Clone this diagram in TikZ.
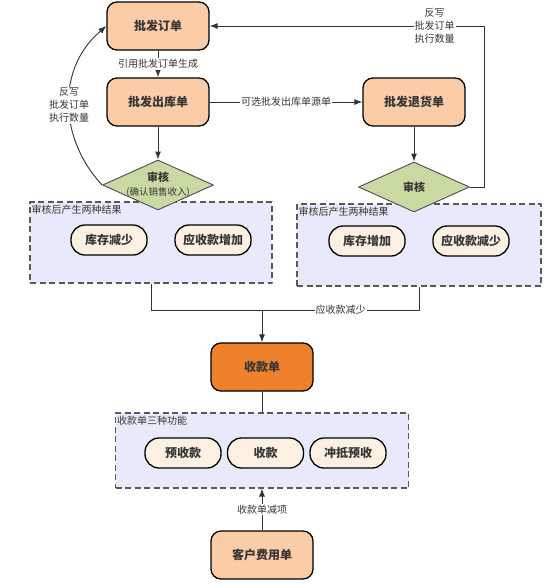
\documentclass[tikz,border=0pt]{standalone}
\usepackage{fontspec}
\setmainfont{Noto Sans CJK SC}
\usetikzlibrary{shapes.geometric,arrows.meta}
\definecolor{docfill}{RGB}{250,204,168}
\definecolor{rcptfill}{RGB}{239,128,44}
\definecolor{chkfill}{RGB}{200,218,162}
\definecolor{grpfill}{RGB}{232,233,250}
\definecolor{pillfill}{RGB}{252,240,226}
\definecolor{txtgray}{RGB}{55,55,55}
\tikzset{
    doc/.style={
        draw=black, line width=1.3pt, rounded corners=10pt, fill=docfill,
        minimum width=102pt, minimum height=48pt, text=txtgray,
        font=\fontsize{12}{14}\selectfont\bfseries
    },
    chk/.style={
        diamond, draw=black!70, line width=0.9pt, fill=chkfill,
        inner sep=0pt, minimum width=111pt, minimum height=50pt
    },
    chktxt/.style={
        align=center, inner sep=0pt, text=txtgray,
        font=\fontsize{11}{13}\selectfont\bfseries
    },
    grp/.style={
        draw=black!65, line width=1.1pt, dash pattern=on 6pt off 3.5pt,
        fill=grpfill, inner sep=0pt
    },
    grptitle/.style={
        inner sep=1pt, text=txtgray, font=\fontsize{10}{12}\selectfont
    },
    pill/.style={
        draw=black, line width=1.3pt, rounded corners=14pt, fill=pillfill,
        minimum width=76pt, minimum height=30pt, text=txtgray,
        font=\fontsize{12}{14}\selectfont\bfseries
    },
    conn/.style={draw=black!80, line width=0.9pt},
    arr/.style={conn, -{Latex[length=8pt,width=6pt]}},
    lbl/.style={
        fill=white, inner sep=1pt, align=center, text=txtgray,
        font=\fontsize{10}{13}\selectfont
    }
}

\begin{document}
\begin{tikzpicture}[x=1pt,y=1pt,line join=round]

% --- frame ---
    \useasboundingbox (0,0) rectangle (554,-584);

% result groups
    \node[grp, minimum width=242pt, minimum height=81pt] (grpL) at (151,-242.5) {};
    \node[grp, minimum width=244pt, minimum height=82pt] (grpR) at (419,-245) {};
    \node[grp, minimum width=293pt, minimum height=75pt] (grpB) at (262,-450.5) {};
    \node[grptitle, anchor=north west] (grpLttl) at ([shift={(1pt,-2pt)}]grpL.north west) {审核后产生两种结果};
    \node[grptitle, anchor=north west] (grpRttl) at ([shift={(1pt,-2pt)}]grpR.north west) {审核后产生两种结果};
    \node[grptitle, anchor=north west] (grpBttl) at ([shift={(1pt,-2pt)}]grpB.north west) {收款单三种功能};

% pills
    \node[pill] (stkdn) at (109,-240) {库存减少};
    \node[pill] (arup)  at (213,-240) {应收款增加};
    \node[pill] (stkup) at (367,-241) {库存增加};
    \node[pill] (ardn)  at (471,-241) {应收款减少};
    \node[pill] (prep)  at (183,-453) {预收款};
    \node[pill] (recv)  at (265.5,-453) {收款};
    \node[pill] (offs)  at (348,-453) {冲抵预收};

% documents
    \node[doc] (ordr) at (158,-26)  {批发订单};
    \node[doc] (outb) at (158,-102) {批发出库单};
    \node[doc] (rtrn) at (414,-102) {批发退货单};
    \node[doc, fill=rcptfill] (rcpt) at (262,-367) {收款单};
    \node[doc] (fee)  at (262,-555) {客户费用单};

% checks
    \node[chk] (chkL) at (158,-185) {};
    \node[chk] (chkR) at (414,-187) {};
    \node[chktxt] (chkLtxt) at (chkL) {审核\\[1pt]{\fontsize{9.5}{11}\selectfont\mdseries (确认销售收入)}};
    \node[chktxt] (chkRtxt) at (chkR) {审核};

% connectors
    \draw[arr] (ordr) -- node[lbl] {引用批发订单生成} (outb);
    \draw[arr] (outb) -- node[lbl] {可选批发出库单源单} (rtrn);
    \draw[arr] (outb) -- (chkL);
    \draw[arr] (rtrn) -- (chkR);
    \draw[arr] (chkL.west) .. controls (60,-140) and (55,-70) .. node[lbl, pos=0.5] {反写\\批发订单\\执行数量} (ordr.west);
    \coordinate (rtop) at (484,-26);
    \draw[arr] (chkR.east) -| (rtop) -- node[lbl, pos=0.18] {反写\\批发订单\\执行数量} (ordr.east);

% into the receipt
    \coordinate (jn) at (262,-310);
    \draw[conn] (grpL.south) |- (jn);
    \draw[conn] (grpR.south) |- node[lbl, pos=0.75] {应收款减少} (jn);
    \draw[arr] (jn) -- (rcpt.north);
    \draw[conn] (rcpt.south) -- (grpB.north);
    \draw[arr] (fee.north) -- node[lbl] {收款单减项} (grpB.south);

\end{tikzpicture}
\end{document}
